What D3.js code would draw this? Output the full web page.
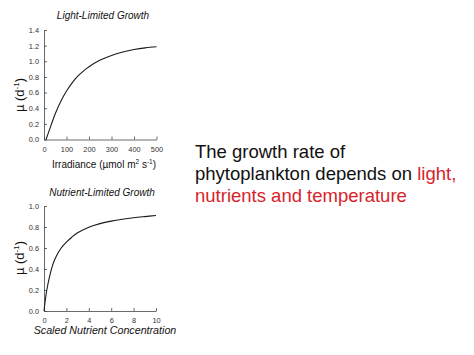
<!DOCTYPE html>
<html><head><meta charset="utf-8">
<script src="https://cdn.jsdelivr.net/npm/d3@7"></script>
<style>
html,body{margin:0;padding:0;background:#fff;}
svg{display:block;font-family:"Liberation Sans",Arial,Helvetica,sans-serif;}
.axis path,.axis line{stroke:#444;stroke-width:0.8;}
.axis text{fill:#333;font-size:7.4px;}
</style></head>
<body>
<svg id="c" width="474" height="355"></svg>
<script>
// Light-limited growth (irradiance, µ)
const irradiance = [9, 25, 50, 75, 100, 125, 150, 175, 200, 250, 300, 350, 400, 450, 500];
const muLight    = [0, 0.13, 0.33, 0.49, 0.62, 0.725, 0.81, 0.875, 0.93, 1.015, 1.075, 1.118, 1.15, 1.172, 1.185];
const lightXTicks = [0, 100, 200, 300, 400, 500];
const lightYTicks = [0, 0.2, 0.4, 0.6, 0.8, 1.0, 1.2, 1.4];

// Nutrient-limited growth (scaled nutrient concentration, µ)
const nutrient   = [0, 0.1, 0.25, 0.5, 0.75, 1, 1.5, 2, 2.5, 3, 4, 5, 6, 7, 8, 9, 10];
const muNutrient = [0, 0.09, 0.2, 0.33, 0.43, 0.5, 0.595, 0.655, 0.705, 0.745, 0.798, 0.832, 0.856, 0.874, 0.888, 0.899, 0.909];
const nutXTicks = [0, 2, 4, 6, 8, 10];
const nutYTicks = [0, 0.2, 0.4, 0.6, 0.8, 1.0];

const svg = d3.select("#c");

function panel(opt) {
  const x = d3.scaleLinear().domain(opt.xDomain).range([44, opt.xEnd]);
  const y = d3.scaleLinear().domain(opt.yDomain).range([opt.y0, opt.y1]);
  const g = svg.append("g");
  g.append("g").attr("class", "axis").attr("transform", `translate(0,${opt.y0})`)
    .call(d3.axisBottom(x).tickValues(opt.xTicks).tickSizeInner(-3).tickSizeOuter(0).tickPadding(opt.xPad).tickFormat(d3.format("d")));
  g.append("g").attr("class", "axis").attr("transform", "translate(44,0)")
    .call(d3.axisLeft(y).tickValues(opt.yTicks).tickSizeInner(-3).tickSizeOuter(0).tickPadding(5).tickFormat(d3.format(".1f")));
  g.selectAll(".domain").attr("fill", "none");
  const line = d3.line().x((d, i) => x(opt.xs[i])).y(d => y(d)).curve(d3.curveCatmullRom.alpha(0.5));
  g.append("path").datum(opt.ys).attr("d", line).attr("fill", "none").attr("stroke", "#1a1a1a").attr("stroke-width", 1.1);
  g.append("text").attr("x", opt.titleX).attr("y", opt.titleY).attr("text-anchor", "middle")
    .attr("font-style", "italic").attr("font-size", 10).attr("fill", "#111").text(opt.title);
  const yl = g.append("text").attr("transform", `translate(${opt.ylX},${opt.ylY}) rotate(-90)`)
    .attr("text-anchor", "middle").attr("font-size", 13).attr("fill", "#111");
  yl.append("tspan").text("µ (d");
  yl.append("tspan").attr("font-size", 8).attr("dy", -5).text("-1");
  yl.append("tspan").attr("dy", 5).text(")");
  return g;
}

const g1 = panel({xDomain:[0,500], xEnd:156.5, yDomain:[0,1.4], y0:139.5, y1:30,
  xTicks:lightXTicks, yTicks:lightYTicks, xPad:7, xs:irradiance, ys:muLight,
  title:"Light-Limited Growth", titleX:103, titleY:19, ylX:24, ylY:95});
const xl = g1.append("text").attr("x", 104).attr("y", 168).attr("text-anchor", "middle").attr("font-size", 10).attr("fill", "#111");
xl.append("tspan").text("Irradiance (µmol m");
xl.append("tspan").attr("font-size", 6.5).attr("dy", -4).text("2");
xl.append("tspan").attr("dy", 4).text(" s");
xl.append("tspan").attr("font-size", 6.5).attr("dy", -4).text("-1");
xl.append("tspan").attr("dy", 4).text(")");

const g2 = panel({xDomain:[0,10], xEnd:156, yDomain:[0,1], y0:311, y1:206,
  xTicks:nutXTicks, yTicks:nutYTicks, xPad:6.5, xs:nutrient, ys:muNutrient,
  title:"Nutrient-Limited Growth", titleX:102, titleY:196, ylX:24, ylY:258});
g2.append("text").attr("x", 105).attr("y", 334).attr("text-anchor", "middle").attr("font-style", "italic")
  .attr("font-size", 10.7).attr("fill", "#111").text("Scaled Nutrient Concentration");

// Right-hand text
const red = "#d8232a";
const t = svg.append("text").attr("font-size", 18.5).attr("fill", "#111");
t.append("tspan").attr("x", 195).attr("y", 158).text("The growth rate of");
t.append("tspan").attr("x", 195).attr("y", 180).text("phytoplankton depends on ");
t.append("tspan").attr("fill", red).text("light,");
t.append("tspan").attr("x", 195).attr("y", 202).attr("fill", red).text("nutrients and temperature");
</script>
</body></html>
